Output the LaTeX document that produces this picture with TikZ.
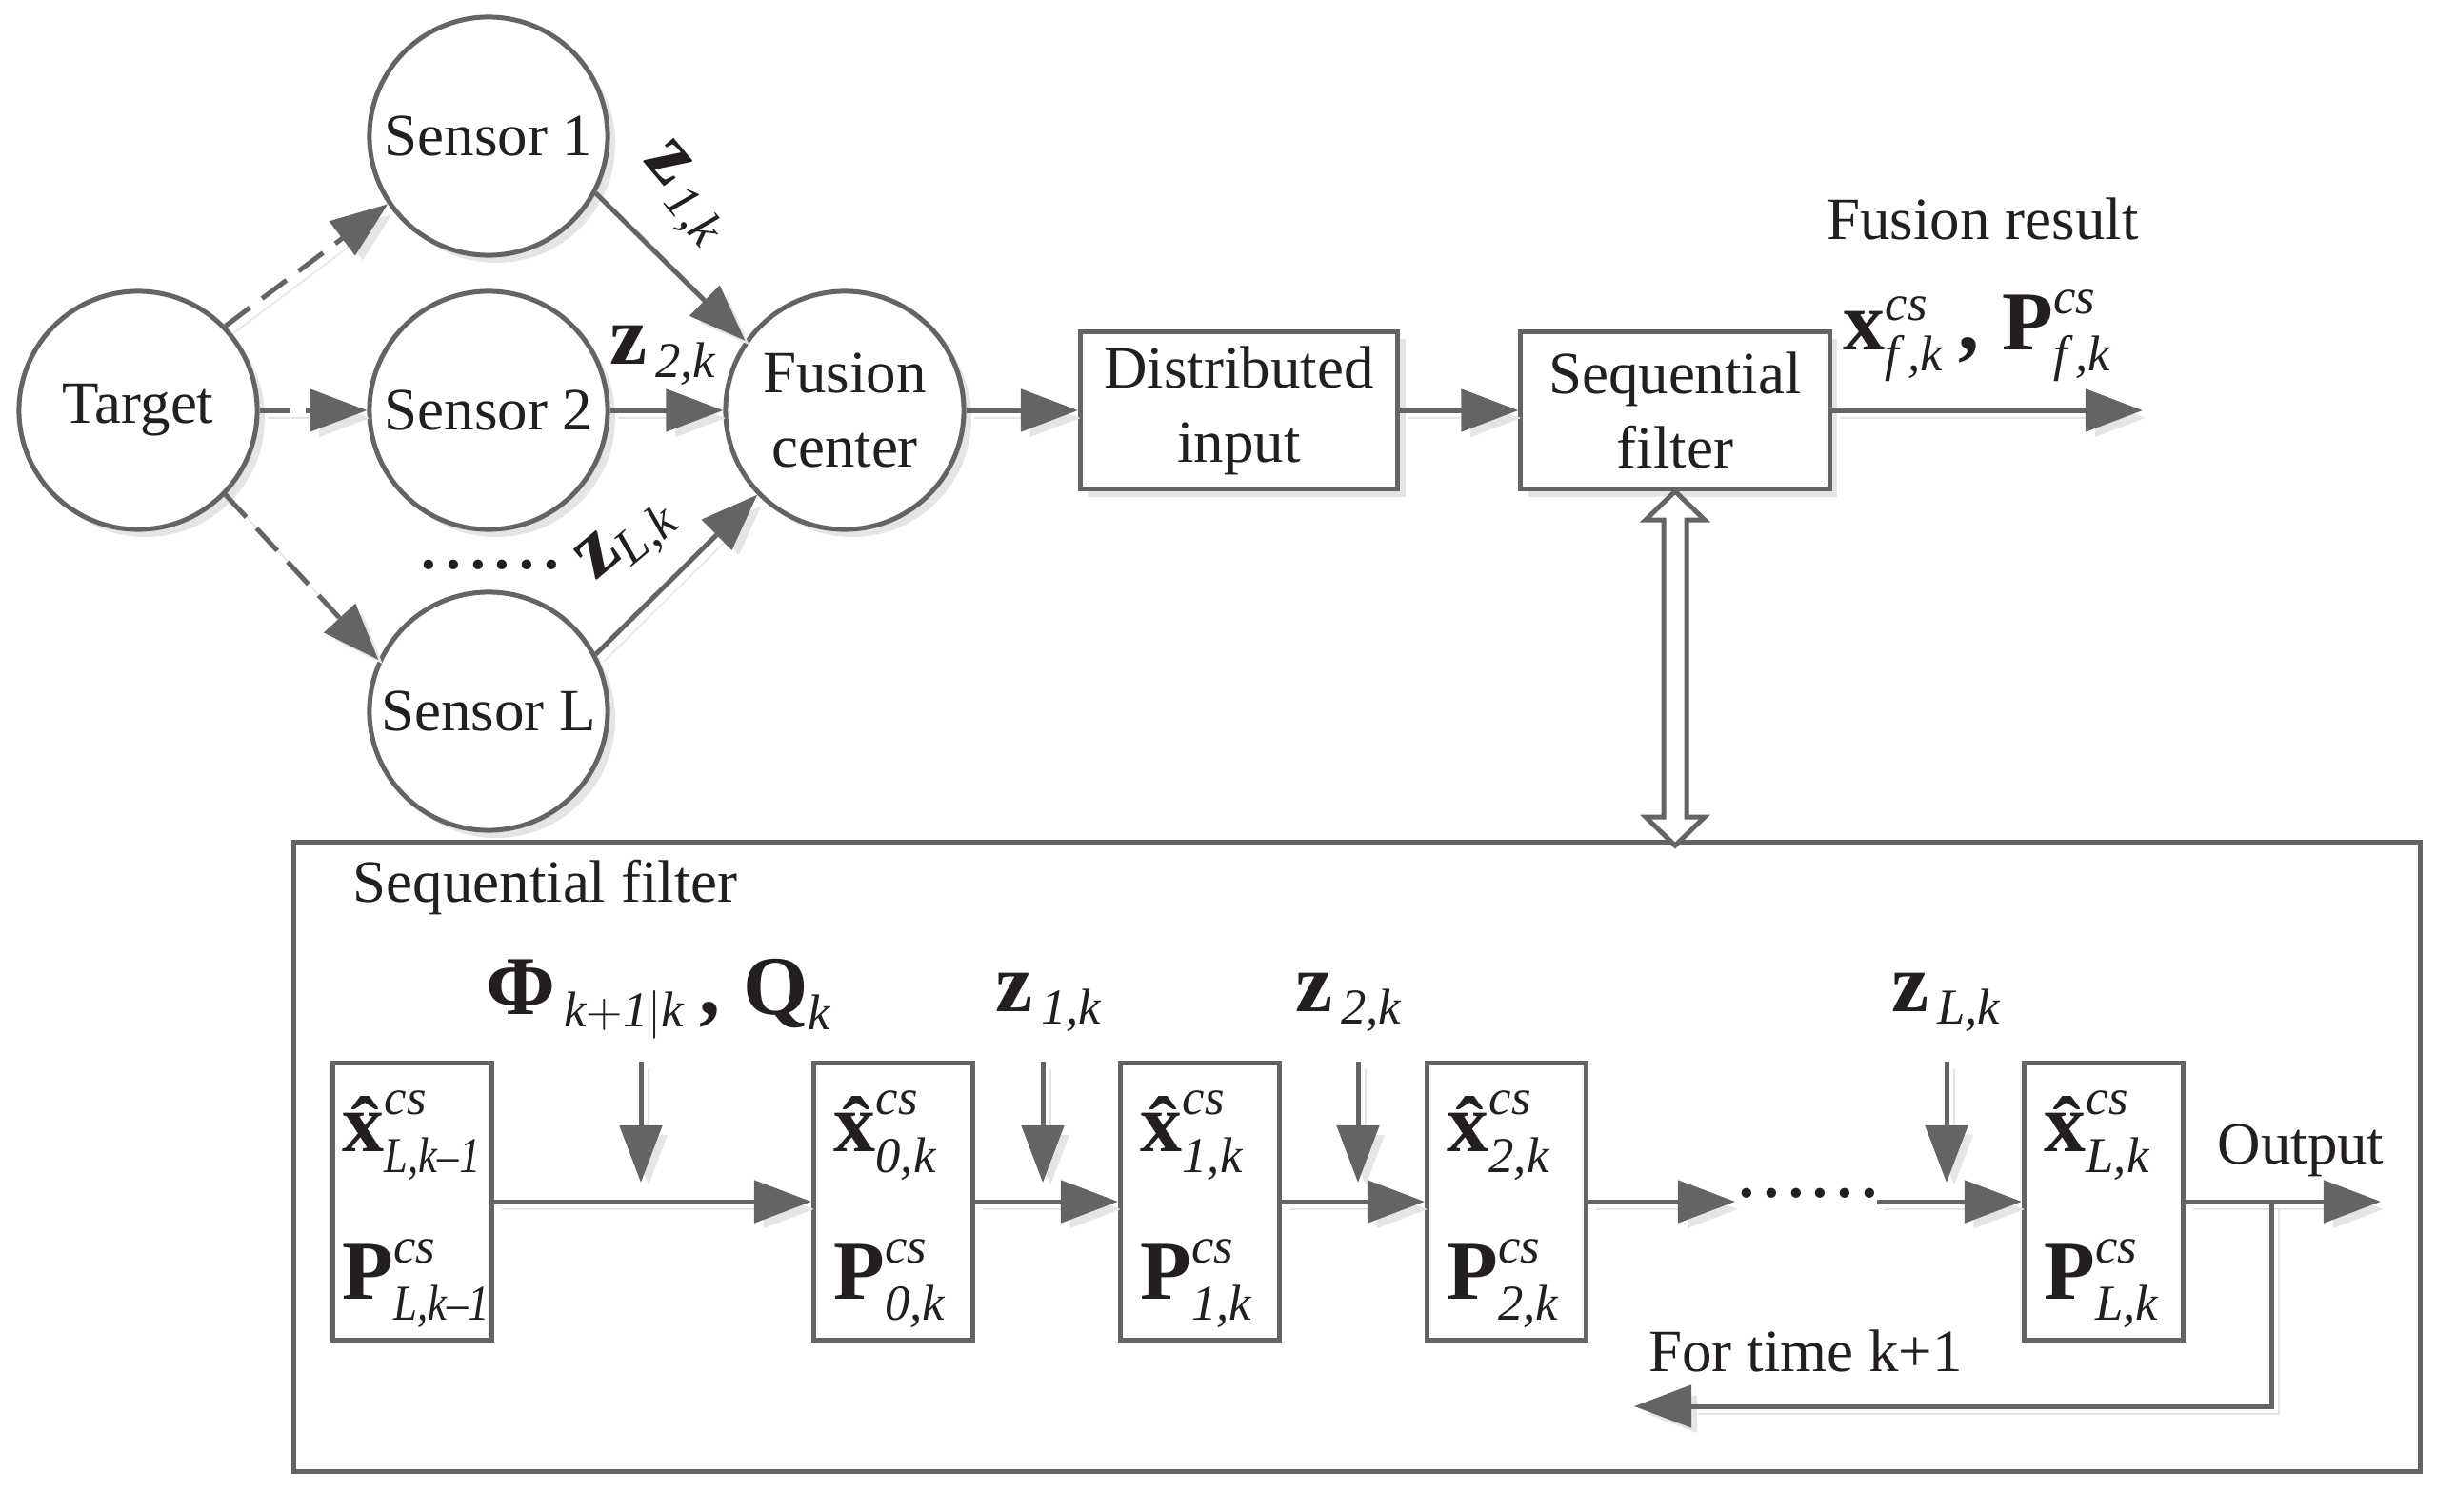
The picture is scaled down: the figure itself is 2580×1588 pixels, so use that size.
\documentclass[tikz,border=0pt]{standalone}
\usepackage{amsmath}
\usepackage{fontspec}
\setmainfont{Liberation Serif}
\usetikzlibrary{arrows.meta,shadows,calc}
\DeclareMathSizes{25}{25}{15}{11}
\definecolor{lc}{RGB}{99,100,102}
\definecolor{sc}{RGB}{228,229,231}
\definecolor{tc}{RGB}{35,31,32}
\newcommand\bv[1]{\textbf{#1}}
\newcommand\iv[1]{\textit{#1}}
\newcommand\xh{\textbf{\^{x}}}
\newcommand\sixdots{\textbf{.}\kern0.1cm\textbf{.}\kern0.1cm\textbf{.}\kern0.1cm\textbf{.}\kern0.1cm\textbf{.}\kern0.1cm\textbf{.}}
\newcommand\lkm{\scalebox{0.85}[1]{\fontsize{15}{15}\selectfont\itshape L,k–1}}
\begin{document}
\begin{tikzpicture}[x=0.01cm,y=-0.01cm,
 txt/.style={font=\fontsize{17.9}{22.2}\selectfont, text=tc, inner sep=0pt},
 mth/.style={font=\fontsize{25}{30}\selectfont, text=tc, inner sep=0pt},
 shad/.style={drop shadow={shadow xshift=0.08cm, shadow yshift=-0.08cm, fill=sc, opacity=1}},
 circ/.style={circle, draw=lc, line width=0.05cm, fill=white, minimum size=2.5cm, inner sep=0pt, align=center, txt, shad},
 sbox/.style={rectangle, draw=lc, line width=0.05cm, fill=white, minimum width=3.33cm, minimum height=1.65cm, inner sep=0pt, align=center, txt, shad},
 ibox/.style={rectangle, draw=lc, line width=0.05cm, fill=white, minimum width=1.67cm, minimum height=2.9cm, inner sep=0pt},
 arr/.style={draw=lc, line width=0.05cm, -{Triangle[length=0.6cm,width=0.44cm]}, preaction={draw=sc, transform canvas={shift={(8,8)}}}},
 darr/.style={arr, dash pattern=on 0.32cm off 0.16cm},
]
\useasboundingbox (0,0) rectangle (2580,1588);

% ---------- upper part ----------
\node[circ] (t) at (145,431) {Target};
\node[circ] (s1) at (513,143) {Sensor 1};
\node[circ] (s2) at (513,431) {Sensor 2};
\node[circ] (sL) at (513,747) {Sensor L};
\node[circ] (fc) at (887,431) {Fusion\\center};
\node[sbox] (di) at (1301,431) {Distributed\\input};
\node[sbox, minimum width=3.24cm] (sf) at (1759,431) {Sequential\\filter};

\draw[darr] (t.44) -- (s1.214);
\draw[darr] (t) -- (s2);
\draw[darr] (t.-44) -- (sL.155);
\draw[arr] (s1.-28) -- (fc.145);
\draw[arr] (s2) -- (fc);
\draw[arr] (sL.28) -- (fc.224);
\draw[arr] (fc) -- (di);
\draw[arr] (di) -- (sf);
\coordinate (res) at (2250,431);
\draw[arr] (sf) -- (res);

\node[mth, rotate=-50] (lz1) at (718,205) {$\bv{z}_{\,\iv{1,k}}$};
\node[mth, anchor=base west] (lz2) at (640,383) {$\bv{z}_{\,\iv{2,k}}$};
\node[txt, anchor=base west] (dots1) at (442,597) {\sixdots};
\node[mth, rotate=40] (lzL) at (660,569) {$\bv{z}_{\iv{L,k}}$};
\node[txt, anchor=base] (fr) at (2082,252) {Fusion result};
\node[mth, anchor=base west] (xf) at (1935,368) {$\bv{x}^{\iv{cs}}_{\iv{f\,,k}}\,\textbf{,}\;\bv{P}^{\iv{cs}}_{\iv{f\,,k}}$};

% ---------- lower frame ----------
\node[draw=lc, line width=0.05cm, minimum width=22.32cm, minimum height=6.6cm, inner sep=0pt] (big) at (1425,1215) {};
\draw[draw=lc, line width=0.05cm, fill=white, line join=miter] (sf.south) -- ++(31,30) -- ++(-19,0) -- ++(0,312) -- ++(19,0) -- ++(-31,30) -- ++(-31,-30) -- ++(19,0) -- ++(0,-312) -- ++(-19,0) -- cycle;
\node[txt, anchor=base west] (sfl) at (370,947) {Sequential filter};

\node[ibox] (b0) at (433,1262) {};
\node[ibox] (b1) at (938,1262) {};
\node[ibox] (b2) at (1260,1262) {};
\node[ibox] (b3) at (1582,1262) {};
\node[ibox] (b4) at (2209,1262) {};

\node[mth, anchor=base west] (x0) at ($(b0.north west)+(12,95)$) {$\xh^{\iv{cs}}_{\lkm}$};
\node[mth, anchor=base west] (p0) at ($(b0.north west)+(12,250)$) {$\bv{P}^{\iv{cs}}_{\lkm}$};
\node[mth, anchor=base west] (x1) at ($(b1.north west)+(23,95)$) {$\xh^{\iv{cs}}_{\iv{0,k}}$};
\node[mth, anchor=base west] (p1) at ($(b1.north west)+(23,250)$) {$\bv{P}^{\iv{cs}}_{\iv{0,k}}$};
\node[mth, anchor=base west] (x2) at ($(b2.north west)+(23,95)$) {$\xh^{\iv{cs}}_{\iv{1,k}}$};
\node[mth, anchor=base west] (p2) at ($(b2.north west)+(23,250)$) {$\bv{P}^{\iv{cs}}_{\iv{1,k}}$};
\node[mth, anchor=base west] (x3) at ($(b3.north west)+(23,95)$) {$\xh^{\iv{cs}}_{\iv{2,k}}$};
\node[mth, anchor=base west] (p3) at ($(b3.north west)+(23,250)$) {$\bv{P}^{\iv{cs}}_{\iv{2,k}}$};
\node[mth, anchor=base west] (x4) at ($(b4.north west)+(23,95)$) {$\xh^{\iv{cs}}_{\iv{L,k}}$};
\node[mth, anchor=base west] (p4) at ($(b4.north west)+(23,250)$) {$\bv{P}^{\iv{cs}}_{\iv{L,k}}$};

\draw[arr] (b0) -- (b1);
\draw[arr] (b1) -- (b2);
\draw[arr] (b2) -- (b3);
\coordinate (d1) at (1822,1262);
\draw[arr] (b3) -- (d1);
\node[txt, anchor=base west] (dots2) at (1826,1257) {\sixdots};
\coordinate (d2) at (1971,1262);
\draw[arr] (d2) -- (b4);
\coordinate (oe) at (2500,1262);
\draw[arr] (b4) -- (oe);
\node[txt, anchor=base] (outl) at (2416,1222) {Output};
\coordinate (fb0) at (2385,1262);
\coordinate (fb1) at (1716,1477);
\draw[arr] (fb0) |- (fb1);
\node[txt, anchor=base] (ftl) at (1896,1440) {For time k+1};

% inputs
\node[mth, anchor=base west] (lphi) at (510,1065) {$\textbf{Φ}_{\,\iv{k}+\iv{1}|\iv{k}}\,\textbf{,}\;\bv{Q}_{\iv{k}}$};
\coordinate (a0s) at (673,1115); \coordinate (a0e) at (673,1242);
\draw[arr] (a0s) -- (a0e);
\node[mth, anchor=base west] (lz1b) at (1045,1062) {$\bv{z}_{\,\iv{1,k}}$};
\coordinate (a1s) at (1095,1115); \coordinate (a1e) at (1095,1242);
\draw[arr] (a1s) -- (a1e);
\node[mth, anchor=base west] (lz2b) at (1360,1062) {$\bv{z}_{\,\iv{2,k}}$};
\coordinate (a2s) at (1426,1115); \coordinate (a2e) at (1426,1242);
\draw[arr] (a2s) -- (a2e);
\node[mth, anchor=base west] (lzLb) at (1986,1062) {$\bv{z}_{\,\iv{L,k}}$};
\coordinate (a3s) at (2044,1115); \coordinate (a3e) at (2044,1242);
\draw[arr] (a3s) -- (a3e);
\end{tikzpicture}
\end{document}
